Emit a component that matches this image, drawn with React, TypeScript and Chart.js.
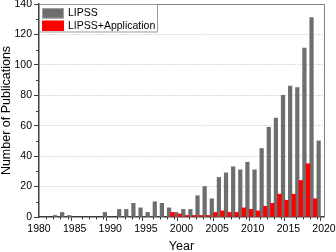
import React, { useEffect, useRef } from 'react';
import { Chart, registerables } from 'chart.js';

Chart.register(...registerables);

const years = [
  '1980', '1981', '1982', '1983', '1984', '1985', '1986', '1987', '1988', '1989',
  '1990', '1991', '1992', '1993', '1994', '1995', '1996', '1997', '1998', '1999',
  '2000', '2001', '2002', '2003', '2004', '2005', '2006', '2007', '2008', '2009',
  '2010', '2011', '2012', '2013', '2014', '2015', '2016', '2017', '2018', '2019',
  '2020',
];

const lipss = [
  null, null, 1, 3, 1, null, null, null, null, 3,
  null, 5, 5, 9, 6, 3, 10, 9, 6, 3,
  5, 5, 14, 20, 12, 26, 29, 33, 31, 36,
  31, 45, 59, 65, 80, 86, 85, 111, 131, 50,
  null,
];

const lipssApplication = [
  null, null, null, null, null, null, null, null, null, null,
  null, null, null, null, null, null, null, null, null, 3,
  2, 1, 1, 1, 1, 3, 4, 3, 3, 6,
  5, 4, 7, 9, 15, 11, 15, 24, 35, 12,
  null,
];

const seriesNames = ['LIPSS', 'LIPSS+Application'];
const seriesColors = ['#6e6e6e', '#ff0000'];
const yTitle = 'Number of Publications';
const xTitle = 'Year';

const FONT = "'Liberation Sans', Arial, Helvetica, sans-serif";
const AXIS = '#3c3c3c';
const GRID = '#b8b8b8';
const FRAME = '#808080';

const isMajorYear = (i: number) => Number(years[i]) % 5 === 0;

const decorPlugin = {
  id: 'decor',
  afterDraw(chart: any) {
    const { ctx, chartArea } = chart;
    const { left, right, top, bottom } = chartArea;
    const xs = chart.scales.x;
    const ys = chart.scales.y;
    ctx.save();
    // frame top and right
    ctx.strokeStyle = FRAME;
    ctx.lineWidth = 1;
    ctx.beginPath();
    ctx.moveTo(left, top + 0.5);
    ctx.lineTo(right + 0.5, top + 0.5);
    ctx.lineTo(right + 0.5, bottom);
    ctx.stroke();

    // minor ticks
    ctx.strokeStyle = AXIS;
    ctx.lineWidth = 1;
    ctx.beginPath();
    for (let v = 10; v < 140; v += 20) {
      const py = Math.round(ys.getPixelForValue(v)) + 0.5;
      ctx.moveTo(left - 3, py);
      ctx.lineTo(left, py);
    }
    for (let i = 0; i < years.length; i++) {
      if (isMajorYear(i)) continue;
      const px = Math.round(xs.getPixelForValue(i)) + 0.5;
      ctx.moveTo(px, bottom);
      ctx.lineTo(px, bottom + 2.5);
    }
    ctx.stroke();

    // legend
    const bx = left + 0.5;
    const by = top + 0.5;
    const bw = 118;
    const bh = 27.5;
    ctx.fillStyle = '#ffffff';
    ctx.fillRect(bx, by, bw, bh);
    ctx.strokeStyle = '#9a9a9a';
    ctx.lineWidth = 1;
    ctx.strokeRect(bx, by, bw, bh);
    const rows = [top + 9, top + 21.5];
    ctx.font = `10.5px ${FONT}`;
    ctx.textBaseline = 'middle';
    ctx.textAlign = 'left';
    seriesNames.forEach((name, k) => {
      const cy = rows[k];
      ctx.fillStyle = seriesColors[k];
      ctx.fillRect(left + 3, cy - 5, 22, 10.5);
      if (k === 0) {
        ctx.strokeStyle = '#a0a0a0';
        ctx.strokeRect(left + 3.5, cy - 4.5, 21, 9.5);
      }
      ctx.fillStyle = '#000000';
      ctx.fillText(name, left + 29, cy + 0.5);
    });
    ctx.restore();
  },
};

export default function App() {
  const canvasRef = useRef<HTMLCanvasElement | null>(null);

  useEffect(() => {
    if (!canvasRef.current) return;
    const chart = new Chart(canvasRef.current, {
      type: 'bar',
      data: {
        labels: years,
        datasets: [
          {
            label: seriesNames[0],
            data: lipss,
            backgroundColor: seriesColors[0],
            borderWidth: 0,
            order: 1,
            categoryPercentage: 1,
            barPercentage: 1,
          },
          {
            label: seriesNames[1],
            data: lipssApplication,
            backgroundColor: seriesColors[1],
            borderWidth: 0,
            order: 0,
            categoryPercentage: 1,
            barPercentage: 1,
          },
        ],
      },
      options: {
        responsive: false,
        animation: false,
        devicePixelRatio: 1,
        layout: { padding: { top: 4, right: 12, left: 0, bottom: 0 } },
        plugins: {
          legend: { display: false },
          tooltip: { enabled: false },
        },
        scales: {
          x: {
            type: 'category',
            offset: false,
            grid: {
              drawOnChartArea: false,
              tickLength: 4,
              tickColor: (c: any) => (isMajorYear(c.index) ? AXIS : 'transparent'),
            },
            border: { color: AXIS, width: 1.5 },
            ticks: {
              autoSkip: false,
              maxRotation: 0,
              minRotation: 0,
              padding: 1.5,
              color: '#000000',
              font: { family: FONT, size: 10.5 },
              callback: (_v: any, i: number) => (isMajorYear(i) ? years[i] : ''),
            },
            title: {
              display: true,
              text: xTitle,
              color: '#000000',
              font: { family: FONT, size: 12.5, lineHeight: 0.8 },
              padding: 0,
            },
            afterFit: (s: any) => {
              s.height = 35;
              s.paddingLeft = 0;
              s.paddingRight = 0;
            },
          },
          y: {
            min: 0,
            max: 140,
            grid: {
              color: (c: any) =>
                c.tick && c.tick.value % 20 === 0 && c.tick.value > 0 && c.tick.value < 140
                  ? GRID
                  : 'transparent',
              lineWidth: 1,
              tickLength: 5,
              tickColor: (c: any) => (c.tick && c.tick.value % 20 === 0 ? AXIS : 'transparent'),
            },
            border: { color: AXIS, width: 1.5, dash: [1, 2] },
            ticks: {
              stepSize: 10,
              padding: 2,
              color: '#000000',
              font: { family: FONT, size: 10.5 },
              callback: (v: any) => (Number(v) % 20 === 0 ? String(v) : ''),
            },
            title: {
              display: true,
              text: yTitle,
              color: '#000000',
              font: { family: FONT, size: 12.5, lineHeight: 1 },
              padding: 0,
            },
            afterFit: (s: any) => {
              s.width = 39;
              s.paddingTop = 0;
              s.paddingBottom = 0;
            },
          },
        },
      },
      plugins: [decorPlugin],
    } as any);
    return () => chart.destroy();
  }, []);

  return (
    <div style={{ position: 'absolute', left: 0, top: 0, width: 336, height: 252, background: '#fff' }}>
      <canvas ref={canvasRef} width={336} height={252} style={{ display: 'block' }} />
    </div>
  );
}
